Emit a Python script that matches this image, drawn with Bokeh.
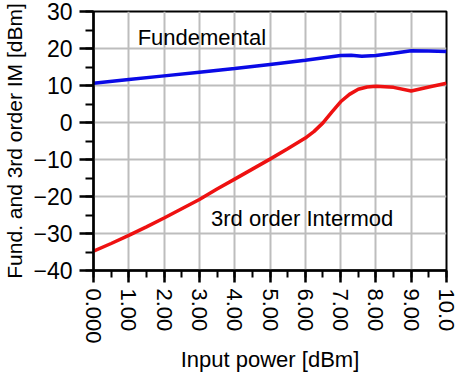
import math
from bokeh.plotting import figure
from bokeh.models import FixedTicker, Label
from bokeh.embed import file_html
from bokeh.resources import INLINE

# data
x_fund = [0, 1, 2, 3, 4, 5, 6, 7, 7.3, 7.6, 8, 8.5, 9, 9.5, 10]
fund = [10.6, 11.6, 12.6, 13.6, 14.6, 15.7, 16.8, 18.1, 18.2, 17.9, 18.1, 18.7, 19.4, 19.3, 19.2]
x_im = [0, 0.5, 1, 1.5, 2, 2.5, 3, 3.5, 4, 4.5, 5, 5.5, 6, 6.25, 6.5, 6.75, 7, 7.25, 7.5, 7.75, 8, 8.5, 9, 9.5, 10]
im = [-34.8, -32.7, -30.5, -28.2, -25.8, -23.3, -20.8, -18.0, -15.3, -12.6, -9.9, -7.1, -4.2, -2.4, -0.1,
      2.8, 5.6, 7.6, 9.0, 9.6, 9.8, 9.5, 8.5, 9.6, 10.6]
x_ticks = [0, 1, 2, 3, 4, 5, 6, 7, 8, 9, 10]
x_tick_labels = ["0.000", "1.00", "2.00", "3.00", "4.00", "5.00", "6.00", "7.00", "8.00", "9.00", "10.0"]
y_ticks = [-40, -30, -20, -10, 0, 10, 20, 30]
label_fund = "Fundemental"
label_im = "3rd order Intermod"
x_title = "Input power [dBm]"
y_title = "Fund. and 3rd order IM [dBm]"

FONT = "Liberation Sans"

p = figure(width=458, height=374, output_backend="svg", toolbar_location=None,
           x_range=(0, 10), y_range=(-40, 30),
           min_border_left=80, min_border_right=12, min_border_top=11,
           min_border_bottom=100)

p.outline_line_color = "black"
p.outline_line_width = 2
p.background_fill_color = "white"

# grid
p.xgrid.ticker = FixedTicker(ticks=x_ticks)
p.ygrid.ticker = FixedTicker(ticks=y_ticks)
for g in (p.xgrid, p.ygrid):
    g.grid_line_color = "#bdbdbd"
    g.grid_line_width = 2

# axes
p.xaxis.ticker = FixedTicker(ticks=x_ticks, minor_ticks=[i * 0.5 for i in range(21)])
p.xaxis.major_label_overrides = {t: l for t, l in zip(x_ticks, x_tick_labels)}
p.xaxis.major_label_orientation = -math.pi / 2
p.yaxis.ticker = FixedTicker(ticks=y_ticks, minor_ticks=list(range(-40, 31, 5)))

for ax in (p.xaxis, p.yaxis):
    ax.axis_line_color = "black"
    ax.axis_line_width = 2.5
    ax.major_tick_line_color = "black"
    ax.major_tick_line_width = 2.5
    ax.minor_tick_line_color = "black"
    ax.minor_tick_line_width = 2
    ax.major_tick_in = 0
    ax.minor_tick_in = 0
    ax.major_label_text_font = FONT
    ax.major_label_text_font_size = "23px"
    ax.major_label_text_color = "black"
    ax.axis_label_text_font = FONT
    ax.axis_label_text_font_size = "21px"
    ax.axis_label_text_font_style = "normal"
    ax.axis_label_text_color = "black"

p.xaxis.major_label_text_font_size = "22px"
p.xaxis.axis_label_text_font_size = "22px"
p.xaxis.axis_label_text_line_height = 0.8
p.xaxis.major_label_text_line_height = 0.8
p.xaxis.major_tick_out = 12
p.xaxis.minor_tick_out = 7
p.yaxis.major_tick_out = 14
p.yaxis.minor_tick_out = 8
p.xaxis.major_label_standoff = 6
p.yaxis.major_label_standoff = 7
p.xaxis.axis_label = x_title
p.yaxis.axis_label = y_title
p.xaxis.axis_label_standoff = 0
p.yaxis.axis_label_standoff = 4

# lines
p.line(x_fund, fund, line_color="#0a0ae6", line_width=3.5)
p.line(x_im, im, line_color="#ee1111", line_width=3.5)

# annotations
p.add_layout(Label(x=1.25, y=23, text=label_fund, text_font=FONT, text_font_size="22px",
                   text_color="black", text_baseline="middle", text_align="left"))
p.add_layout(Label(x=3.33, y=-26, text=label_im, text_font=FONT, text_font_size="22px",
                   text_color="black", text_baseline="middle", text_align="left"))

open("out.html", "w").write(file_html(p, INLINE))
